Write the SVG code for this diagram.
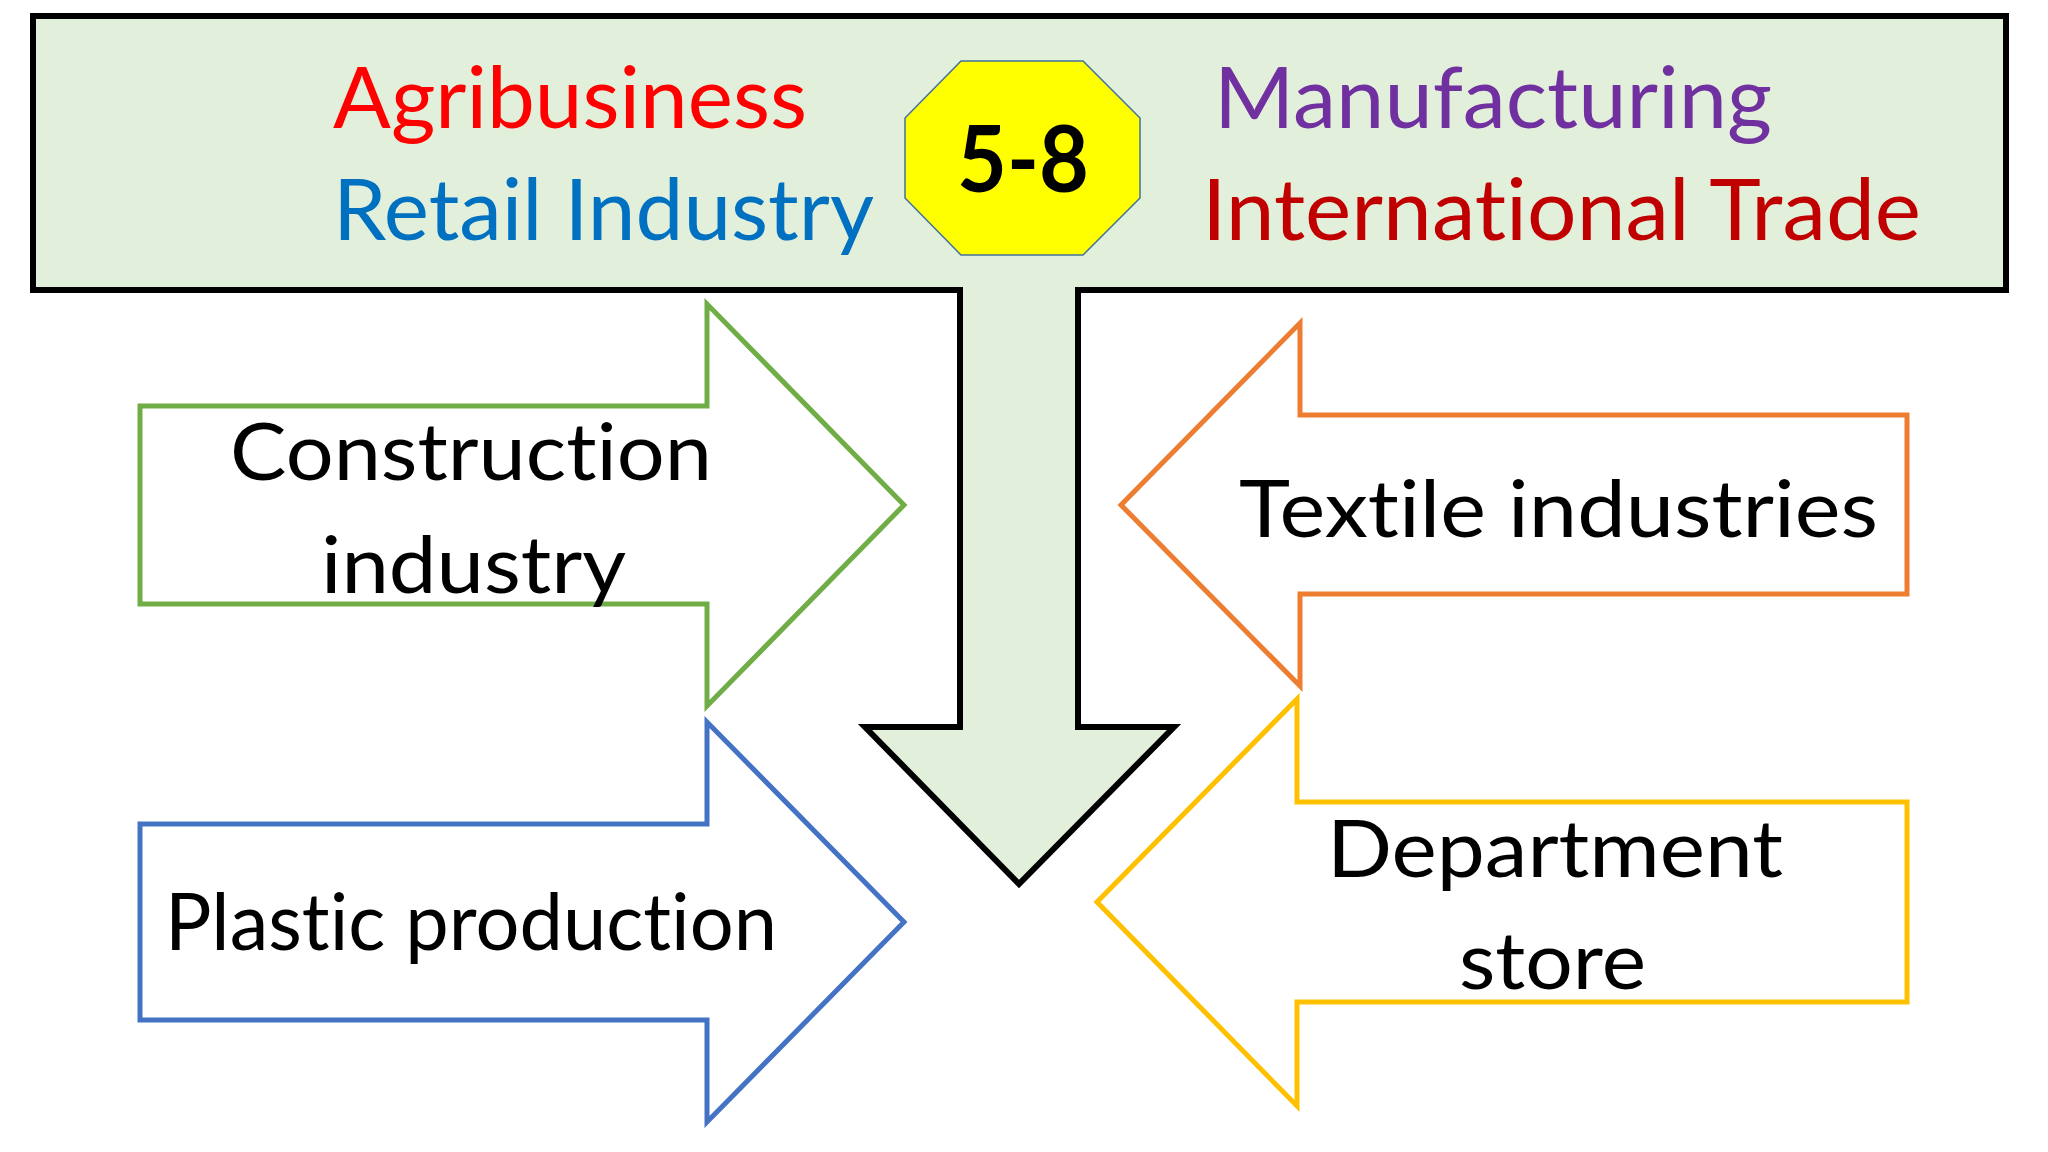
<svg xmlns="http://www.w3.org/2000/svg" width="2048" height="1152" viewBox="0 0 2048 1152">
<style>
  text { font-family: Lato, "Open Sans", "Liberation Sans", sans-serif; font-variant-ligatures: none; font-feature-settings: "liga" 0, "clig" 0, "dlig" 0; }
  .top { font-size: 86px; }
  .lbl { font-size: 80px; fill: #000000; }
  .arrow { fill: #FFFFFF; stroke-width: 5; stroke-linejoin: miter; }
</style>
<rect x="0" y="0" width="2048" height="1152" fill="#FFFFFF"/>
<g id="header">
  <path d="M33,16 H2006 V290 H1078 V727 H1174 L1019,884 L865,727 H960 V290 H33 Z" fill="#E2EFDA" stroke="#000000" stroke-width="6" stroke-linejoin="miter"/>
  <text class="top" x="333" y="128" fill="#FF0000" textLength="474" lengthAdjust="spacingAndGlyphs">Agribusiness</text>
  <text class="top" x="333" y="240" fill="#0070C0" textLength="541" lengthAdjust="spacingAndGlyphs">Retail Industry</text>
  <text class="top" x="1214" y="128" fill="#7030A0" textLength="558" lengthAdjust="spacingAndGlyphs">Manufacturing</text>
  <text class="top" x="1202" y="240" fill="#C00000" textLength="719" lengthAdjust="spacingAndGlyphs">International Trade</text>
</g>
<g id="badge">
  <polygon points="961,61 1083,61 1140,118 1140,198 1083,255 961,255 905,198 905,118" fill="#FFFF00" stroke="#41719C" stroke-width="1.5"/>
  <text x="957" y="192" font-size="92" font-weight="bold" fill="#000000" textLength="132" lengthAdjust="spacingAndGlyphs">5-8</text>
</g>
<g id="construction">
  <path class="arrow" stroke="#70AD47" d="M140,406 H707 V304 L904,505 L707,706 V604 H140 Z"/>
  <text class="lbl" x="230" y="480" textLength="482" lengthAdjust="spacingAndGlyphs">Construction</text>
  <text class="lbl" x="321" y="593" textLength="305" lengthAdjust="spacingAndGlyphs">industry</text>
</g>
<g id="plastic">
  <path class="arrow" stroke="#4472C4" d="M140,824 H707 V722 L904,922 L707,1122 V1020 H140 Z"/>
  <text class="lbl" x="165" y="950" textLength="612" lengthAdjust="spacingAndGlyphs">Plastic production</text>
</g>
<g id="textile">
  <path class="arrow" stroke="#ED7D31" d="M1907,415 H1300 V323 L1121,505 L1300,686 V594 H1907 Z"/>
  <text class="lbl" x="1239" y="537" textLength="639" lengthAdjust="spacingAndGlyphs">Textile industries</text>
</g>
<g id="department">
  <path class="arrow" stroke="#FFC000" d="M1907,802 H1297 V699 L1097,902 L1297,1106 V1002 H1907 Z"/>
  <text class="lbl" x="1327" y="877" textLength="456" lengthAdjust="spacingAndGlyphs">Department</text>
  <text class="lbl" x="1459" y="989" textLength="187" lengthAdjust="spacingAndGlyphs">store</text>
</g>
<g id="connectors"></g>
</svg>
